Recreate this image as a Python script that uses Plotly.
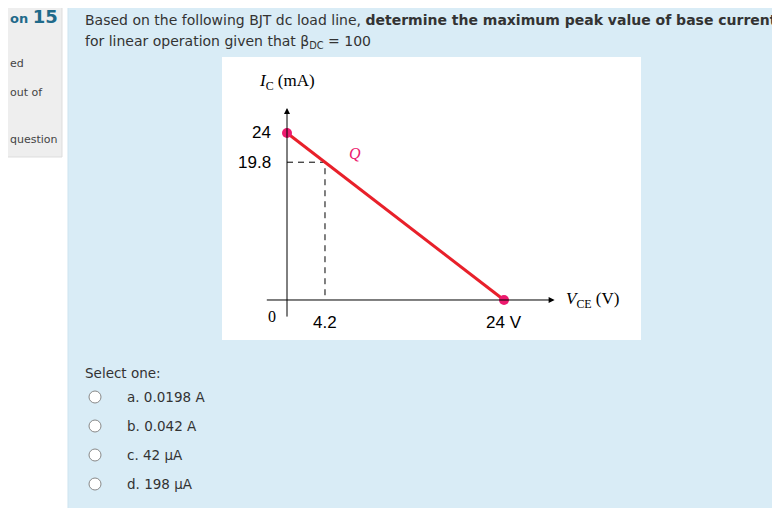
import plotly.graph_objects as go

# Data
load_line_v = [0, 24]
load_line_i = [24, 0]
q_v = 4.2
q_i = 19.8
y_tick_labels = ["24", "19.8"]
y_tick_vals = [24, 19.8]
x_tick_labels = ["4.2", "24 V"]
x_tick_vals = [4.2, 24]
options = ["a. 0.0198 A", "b. 0.042 A", "c. 42 μA", "d. 198 μA"]

W, H = 780, 508
OFF = 8
def px(x): return (x - OFF) / W
def py(y): return 1 - (y - OFF) / H

fig = go.Figure()
fig.add_trace(go.Scatter(x=[0, q_v, q_v], y=[q_i, q_i, 0], mode="lines",
                         line=dict(color="black", width=1, dash="6px,5px"), hoverinfo="skip"))
fig.add_trace(go.Scatter(x=load_line_v, y=load_line_i, mode="lines",
                         line=dict(color="#e8202a", width=3), hoverinfo="skip"))
fig.add_trace(go.Scatter(x=load_line_v, y=load_line_i, mode="markers",
                         marker=dict(color="#ec1a6e", size=10), hoverinfo="skip"))

ann = []
ann.append(dict(x=29.6, y=0, ax=-2.4, ay=0, xref="x", yref="y", axref="x", ayref="y",
                showarrow=True, arrowhead=2, arrowsize=1.2, arrowwidth=1, arrowcolor="black", text=""))
ann.append(dict(x=0, y=27.6, ax=0, ay=-2.6, xref="x", yref="y", axref="x", ayref="y",
                showarrow=True, arrowhead=2, arrowsize=1.2, arrowwidth=1, arrowcolor="black", text=""))
for v, t in zip(y_tick_vals, y_tick_labels):
    ann.append(dict(x=-1.6, y=v, xref="x", yref="y", text=t, showarrow=False, xanchor="right",
                    font=dict(family="Liberation Sans", size=17, color="black")))
for v, t in zip(x_tick_vals, x_tick_labels):
    ann.append(dict(x=v, y=-1.6, xref="x", yref="y", text=t, showarrow=False, yanchor="top",
                    font=dict(family="Liberation Sans", size=17, color="black")))
ann.append(dict(x=-1.0, y=-0.9, xref="x", yref="y", text="0", showarrow=False, yanchor="top", xanchor="right",
                font=dict(family="Liberation Serif", size=16, color="black")))
ann.append(dict(x=7.5, y=19.6, xref="x", yref="y", text="<i>Q</i>", showarrow=False, yanchor="bottom",
                font=dict(family="Liberation Serif", size=16, color="#ec1a6e")))
ann.append(dict(x=0, y=29.5, xref="x", yref="y", text="<i>I</i><sub>C</sub> (mA)", showarrow=False,
                yanchor="bottom", font=dict(family="Liberation Serif", size=17, color="black")))
ann.append(dict(x=30.6, y=0, xref="x", yref="y", text="<i>V</i><sub>CE</sub> (V)", showarrow=False,
                xanchor="left", font=dict(family="Liberation Serif", size=17, color="black")))

ann.append(dict(x=px(83), y=py(20), xref="paper", yref="paper", xanchor="left", yanchor="middle", showarrow=False,
                text="Based on the following BJT dc load line, <b>determine the maximum peak value of base current</b>",
                font=dict(family="DejaVu Sans", size=14, color="#333333")))
ann.append(dict(x=px(83), y=py(42), xref="paper", yref="paper", xanchor="left", yanchor="middle", showarrow=False,
                text="for linear operation given that β<sub>DC</sub> = 100",
                font=dict(family="DejaVu Sans", size=14, color="#333333")))
ann.append(dict(x=0, y=py(17), xref="paper", yref="paper", xanchor="left", yanchor="middle", showarrow=False,
                text="<b>on <span style='font-size:18px'>15</span></b>",
                font=dict(family="DejaVu Sans", size=13, color="#1f6a8a")))
for yy, t in [(63, "ed"), (92, "out of"), (139, "question")]:
    ann.append(dict(x=0, y=py(yy), xref="paper", yref="paper", xanchor="left", yanchor="middle", showarrow=False,
                    text=t, font=dict(family="DejaVu Sans", size=11, color="#444444")))
ann.append(dict(x=px(83), y=py(373), xref="paper", yref="paper", xanchor="left", yanchor="middle", showarrow=False,
                text="Select one:", font=dict(family="DejaVu Sans", size=13.5, color="#333333")))
shapes = [
    dict(type="rect", xref="paper", yref="paper", x0=-0.02, x1=px(62), y0=py(157), y1=py(6),
         fillcolor="#eeeeee", line=dict(color="#dddddd", width=1), layer="below"),
    dict(type="rect", xref="paper", yref="paper", x0=px(68), x1=1.05, y0=-0.05, y1=py(6),
         fillcolor="#d9ecf6", line=dict(color="#cde3ef", width=1), layer="below"),
    dict(type="rect", xref="paper", yref="paper", x0=px(222), x1=px(641), y0=py(340), y1=py(57),
         fillcolor="white", line=dict(width=0), layer="below"),
]
for i, t in enumerate(options):
    yy = 397 + 29 * i
    ann.append(dict(x=px(125), y=py(yy), xref="paper", yref="paper", xanchor="left", yanchor="middle",
                    showarrow=False, text=t, font=dict(family="DejaVu Sans", size=13.5, color="#333333")))
    shapes.append(dict(type="circle", xref="paper", yref="paper", x0=px(89), x1=px(101),
                       y0=py(yy + 6), y1=py(yy - 6), fillcolor="white", line=dict(color="#888888", width=1)))

fig.update_layout(
    width=W, height=H, margin=dict(l=0, r=0, t=0, b=0),
    paper_bgcolor="white", plot_bgcolor="rgba(0,0,0,0)", showlegend=False,
    xaxis=dict(domain=[px(222), px(641)], range=[-7.19, 39.15], visible=False, fixedrange=True),
    yaxis=dict(domain=[py(340), py(57)], range=[-5.75, 34.92], visible=False, fixedrange=True),
    annotations=ann, shapes=shapes,
)
fig.write_html("out.html")
